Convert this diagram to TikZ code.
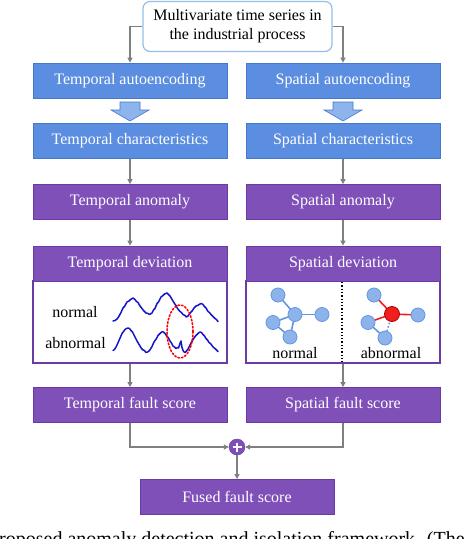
\documentclass[tikz,border=0pt]{standalone}
\usepackage{fontspec}
\setmainfont{Liberation Serif}
\usetikzlibrary{arrows.meta}
\definecolor{boxblue}{RGB}{91,142,224}
\definecolor{boxblueline}{RGB}{70,120,205}
\definecolor{lightblue}{RGB}{141,180,235}
\definecolor{topline}{RGB}{150,190,235}
\definecolor{purp}{RGB}{126,80,184}
\definecolor{purpline}{RGB}{105,60,165}
\definecolor{arrgray}{RGB}{128,128,128}
\definecolor{wave}{RGB}{20,20,200}
\definecolor{gnode}{RGB}{140,180,235}
\definecolor{gline}{RGB}{100,150,225}
\definecolor{gred}{RGB}{240,30,30}
\newcommand{\bigfs}{\fontsize{16}{19}\selectfont}
\tikzset{
  bluebox/.style={draw=boxblueline, fill=boxblue, text=white, minimum width=194pt,
    minimum height=35pt, inner sep=0pt, line width=0.8pt, font=\bigfs},
  purplebox/.style={draw=purpline, fill=purp, text=white, minimum width=194pt,
    minimum height=35pt, inner sep=0pt, line width=0.8pt, font=\bigfs},
  panel/.style={draw=purpline, fill=white, minimum width=194pt, minimum height=82pt,
    inner sep=0pt, line width=1.2pt},
  conn/.style={draw=arrgray, line width=1.1pt, -{Triangle[length=5pt,width=5pt]}},
  blockarrow/.style={draw=boxblueline, fill=lightblue, line width=0.6pt},
  lbl/.style={font=\bigfs, inner sep=0pt},
  gn/.style={circle, draw=gline, fill=gnode, minimum size=14pt, inner sep=0pt, line width=0.8pt},
  gnred/.style={circle, draw=red!70!black, fill=gred, minimum size=15pt, inner sep=0pt, line width=0.8pt},
  ge/.style={draw=gline, line width=1.6pt},
  ger/.style={draw=gred, line width=1.6pt},
  wavestyle/.style={draw=wave, line width=1.5pt, line join=round, line cap=round}
}
\begin{document}
\begin{tikzpicture}[x=1pt,y=-1pt]
\useasboundingbox (0,0) rectangle (474,539);
\fill[white] (0,0) rectangle (474,539);

% top box
\node[draw=topline, fill=white, rounded corners=7pt, line width=1.2pt, minimum width=189pt,
  minimum height=50pt, align=center, font=\bigfs, inner sep=0pt] (top) at (237.5,26.5)
  {Multivariate time series in\\the industrial process};

% blue boxes
\node[bluebox] (ta) at (130,80.5) {Temporal autoencoding};
\node[bluebox] (sa) at (343,80.5) {Spatial autoencoding};
\node[bluebox] (tc) at (130,141) {Temporal characteristics};
\node[bluebox] (sc) at (343,141) {Spatial characteristics};

% block arrows
\foreach \cx in {130,343}{
  \draw[blockarrow] (\cx-10,102) -- (\cx+10,102) -- (\cx+10,110) -- (\cx+19,110)
    -- (\cx,121) -- (\cx-19,110) -- (\cx-10,110) -- cycle;
}

% purple boxes
\node[purplebox] (tan) at (130,202) {Temporal anomaly};
\node[purplebox] (san) at (343,202) {Spatial anomaly};

\node[panel] (tdp) at (130,322) {};
\node[panel] (sdp) at (343,322) {};
\node[purplebox] (td) at (130,263.5) {Temporal deviation};
\node[purplebox] (sd) at (343,263.5) {Spatial deviation};

\node[purplebox] (tfs) at (130,405) {Temporal fault score};
\node[purplebox] (sfs) at (343,405) {Spatial fault score};
\node[purplebox] (fused) at (237,497) {Fused fault score};

% plus
\node[circle, fill=purp, draw=purpline, minimum size=16pt, inner sep=0pt] (plus) at (237,447) {};
\draw[white, line width=2pt] (232.5,447) -- (241.5,447) (237,442.5) -- (237,451.5);

% connectors
\draw[conn] (top.west) -| (ta.north);
\draw[conn] (top.east) -| (sa.north);
\draw[conn] (tc.south) -- (tan.north);
\draw[conn] (sc.south) -- (san.north);
\draw[conn] (tan.south) -- (td.north);
\draw[conn] (san.south) -- (sd.north);
\draw[conn] (tdp.south) -- (tfs.north);
\draw[conn] (sdp.south) -- (sfs.north);
\draw[conn] (tfs.south) |- (plus.west);
\draw[conn] (sfs.south) |- (plus.east);
\draw[conn] (plus.south) -- (fused.north);

% temporal panel content
\node[lbl] (nlab) at (75,312) {normal};
\node[lbl] (alab) at (75.5,343) {abnormal};
\draw[wavestyle] (113,321) -- (115,320.5) -- (117,319) -- (118.5,317) -- (121,312.5) -- (123,308)
  -- (124.5,306.5) -- (127,302) -- (129,301) -- (130.5,299.5) -- (133,298) -- (135,299.5)
  -- (136.5,301.5) -- (138,302.5) -- (140,306) -- (142,308.5) -- (143.5,310.5) -- (146,313)
  -- (148,313.5) -- (149.5,314.5) -- (152,313) -- (153.5,310) -- (155,308.5) -- (157,303.5)
  -- (158.5,302) -- (161,297) -- (163,295.5) -- (164.5,294) -- (167,293) -- (168.5,294.5)
  -- (170,296) -- (171.5,298.5) -- (173,301) -- (174.5,303.5) -- (176,305.5) -- (177.5,308.5)
  -- (180,311.5) -- (181.5,312.5) -- (183,314.5) -- (185,315.5) -- (186.5,317) -- (188,316)
  -- (189.5,314) -- (191,312) -- (192.5,310.5) -- (194,308) -- (196,306) -- (197.5,305.5)
  -- (200,304) -- (201.5,303.5) -- (203,304.5) -- (204.5,306.5) -- (206,308) -- (208,311.5)
  -- (209.5,312.5) -- (211,314.5) -- (213,316.5) -- (215,318.5) -- (216.5,319.5) -- (218,321.5);
\draw[wavestyle] (113,350.5) -- (114.5,349.5) -- (116,347) -- (117.5,344) -- (119,340.5)
  -- (120.5,337) -- (122,333.5) -- (123.5,331.5) -- (125,329.5) -- (126.5,328.5) -- (128,328)
  -- (129.5,328.5) -- (131,330.5) -- (132.5,332) -- (134,335) -- (135.5,338) -- (137,341)
  -- (138.5,343.5) -- (140,346) -- (141.5,348.5) -- (143,350) -- (144.5,350.5) -- (146,352.5)
  -- (147.5,352) -- (149,351) -- (150.5,349) -- (152,346.5) -- (153.5,343) -- (155,340.5)
  -- (156.5,338.5) -- (158,335.5) -- (159.5,334) -- (161,332.5) -- (162.5,331.5) -- (164,332.5)
  -- (165.5,334) -- (167,336.5) -- (168.5,338) -- (170,341) -- (171.5,343) -- (173,346)
  -- (174.5,347) -- (176,348.5) -- (177.5,347.5) -- (178.5,348) -- (180,343.5) -- (181,341)
  -- (182,347.5) -- (183.5,351.5) -- (185,352.5) -- (186.5,351) -- (188,349) -- (189.5,346)
  -- (191,343) -- (192.5,340.5) -- (194,338) -- (195.5,336) -- (197,334.5) -- (198.5,333)
  -- (200,332) -- (201.5,332.5) -- (203,334.5) -- (204.5,336) -- (206,338.5) -- (207.5,340)
  -- (209,342.5) -- (210.5,343.5) -- (212,345.5) -- (213.5,347.5) -- (215,348.5) -- (216.5,350) -- (218,351.5);
\draw[red, line width=1.6pt, dotted, line cap=round] (180,331.5) ellipse [x radius=13, y radius=26.5];

% spatial panel content
\draw[black, line width=1.3pt, dotted] (342,282) -- (342,362);
\coordinate (g1) at (278,295);
\coordinate (g2) at (295,314.5);
\coordinate (g3) at (322,314.5);
\coordinate (g4) at (273,322.5);
\coordinate (g5) at (290,337);
\coordinate (h1) at (374,295);
\coordinate (h2) at (392,314);
\coordinate (h3) at (418,315);
\coordinate (h4) at (368,322.5);
\coordinate (h5) at (385,338);
\draw[ge] (g1) -- (g2);
\draw[ge] (g2) -- (g3);
\draw[ge] (g2) -- (g4);
\draw[ge] (g4) -- (g5);
\draw[ge] (g5) -- (g2);
\draw[ger] (h1) -- (h2);
\draw[ger] (h2) -- (h3);
\draw[ger] (h2) -- (h4);
\draw[ge] (h4) -- (h5);
\draw[ge, dotted] (h5) -- (h2);
\node[gn] (g1n) at (g1) {};
\node[gn] (g2n) at (g2) {};
\node[gn] (g3n) at (g3) {};
\node[gn] (g4n) at (g4) {};
\node[gn] (g5n) at (g5) {};
\node[gn] (h1n) at (h1) {};
\node[gnred] (h2n) at (h2) {};
\node[gn] (h3n) at (h3) {};
\node[gn] (h4n) at (h4) {};
\node[gn] (h5n) at (h5) {};
\node[lbl] (nlab2) at (295,353) {normal};
\node[lbl] (alab2) at (391,353) {abnormal};

% caption (cut off at the lower edge, as in the reference)
\node[anchor=base west, inner sep=0pt, font=\fontsize{20}{24}\selectfont] (cap) at (-11,545)
  {proposed anomaly detection and isolation framework. (The};
\end{tikzpicture}
\end{document}
